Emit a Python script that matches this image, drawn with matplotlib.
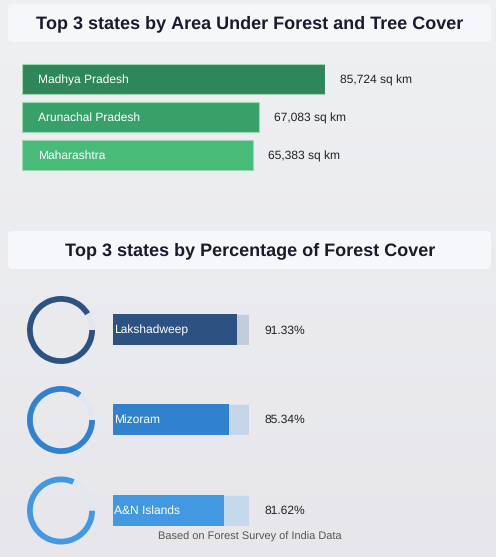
import numpy as np
import matplotlib
matplotlib.use("Agg")
import matplotlib.pyplot as plt
from matplotlib.patches import FancyBboxPatch
from matplotlib.colors import LinearSegmentedColormap

plt.rcParams["font.family"] = ["Liberation Sans", "DejaVu Sans"]
plt.rcParams["text.hinting"] = "no_hinting"
plt.rcParams["text.hinting_factor"] = 1

# data
area_states = ["Madhya Pradesh", "Arunachal Pradesh", "Maharashtra"]
area_values = [85724, 67083, 65383]
area_colors = ["#2e8659", "#38a169", "#48bb78"]

pct_states = ["Lakshadweep", "Mizoram", "A&N Islands"]
pct_values = [91.33, 85.34, 81.62]
pct_colors = ["#2c5282", "#3182ce", "#4299e1"]
pct_tracks = ["#c3ccd9", "#c5d5e8", "#c5d9ec"]

W, H = 496, 557
fig = plt.figure(figsize=(W / 100, H / 100), dpi=100)


def px_axes(x0, y0, x1, y1):
    # axes placed by pixel box (top-left origin)
    return fig.add_axes([x0 / W, 1 - y1 / H, (x1 - x0) / W, (y1 - y0) / H])


# background + title cards, pixel coordinates
bg = px_axes(0, 0, W, H)
bg.set_xlim(0, W)
bg.set_ylim(H, 0)
bg.axis("off")
grad = LinearSegmentedColormap.from_list("bg", ["#eff0f2", "#e7e7eb"])
bg.imshow(np.linspace(0, 1, 100).reshape(-1, 1), cmap=grad, aspect="auto",
          extent=(0, W, H, 0), zorder=0)

for (y0, y1, title) in [(4, 42, "Top 3 states by Area Under Forest and Tree Cover"),
                        (231, 269, "Top 3 states by Percentage of Forest Cover")]:
    bg.add_patch(FancyBboxPatch((8, y0), 483, y1 - y0,
                                boxstyle="round,pad=0,rounding_size=4",
                                fc="#f6f7fa", ec="none", zorder=1))
    bg.text(250, (y0 + y1) / 2 + 1, title, ha="center", va="center",
            fontsize=13, fontweight="bold", color="#1a1a2e", zorder=2)

bg.text(250, 537, "Based on Forest Survey of India Data", ha="center",
        va="center", fontsize=7.6, color="#555555", zorder=2)

# top chart: horizontal bars
ax1 = px_axes(22, 60, 325, 174)
ax1.axis("off")
ax1.set_xlim(0, max(area_values))
ax1.set_ylim(len(area_states) - 0.5, -0.5)
ypos = np.arange(len(area_states))
ax1.barh(ypos, area_values, height=0.81, color=area_colors,
         edgecolor="#9ad8b4", linewidth=0.8)
for i, (name, v) in enumerate(zip(area_states, area_values)):
    ax1.annotate(name, xy=(0, i), xytext=(16, -1), textcoords="offset pixels",
                 ha="left", va="center", fontsize=8.4, color="white")
    ax1.annotate(f"{v:,} sq km", xy=(v, i), xytext=(15, -1),
                 textcoords="offset pixels", ha="left", va="center",
                 fontsize=8.6, color="#222222", annotation_clip=False)

# bottom chart: donut rings + progress bars
ring_centers = [330, 420, 510.5]
bar_centers = [329.5, 419, 510]
for name, p, col, track, cy, by in zip(pct_states, pct_values, pct_colors,
                                         pct_tracks, ring_centers, bar_centers):
    axr = px_axes(61 - 34, cy - 34, 61 + 34, cy + 34)
    axr.pie([p, 100 - p], colors=[col, "#e1e7ef"], startangle=0,
            counterclock=False, radius=1,
            wedgeprops=dict(width=0.17, edgecolor="none"))
    axr.set_xlim(-1, 1)
    axr.set_ylim(-1, 1)
    axr.set_aspect("equal")
    axr.axis("off")

    axb = px_axes(113, by - 15.5, 249, by + 15.5)
    axb.axis("off")
    axb.set_xlim(0, 100)
    axb.set_ylim(-0.5, 0.5)
    axb.barh([0], [100], height=1, color=track, edgecolor="#dde4ee",
             linewidth=0.8)
    axb.barh([0], [p], height=1, color=col, edgecolor="none")
    axb.annotate(name, xy=(0, 0), xytext=(1, -1), textcoords="offset pixels",
                 ha="left", va="center", fontsize=8.4, color="white")
    axb.annotate(f"{p:.2f}%", xy=(100, 0), xytext=(15, -1),
                 textcoords="offset pixels", ha="left", va="center",
                 fontsize=8.6, color="#222222", annotation_clip=False)

fig.savefig("out.png", dpi=100)
plt.close(fig)
